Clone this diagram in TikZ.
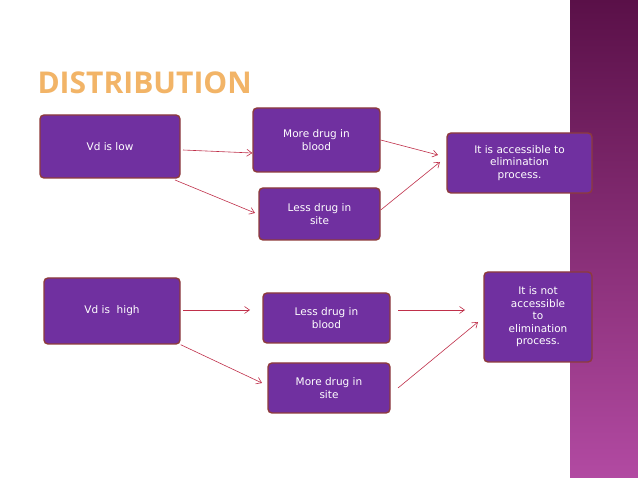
\documentclass[tikz,border=0pt]{standalone}
\usepackage{fontspec}
\setmainfont{DejaVu Sans}
\newfontfamily\titlefont{Open Sans}
\usetikzlibrary{arrows.meta}
\definecolor{boxfill}{HTML}{7030A0}
\definecolor{boxline}{HTML}{8E3B3B}
\definecolor{arr}{HTML}{C0304A}
\definecolor{stripetop}{HTML}{5A1048}
\definecolor{stripebot}{HTML}{B24AA2}
\definecolor{ttl}{HTML}{F2B467}
\tikzset{
 box/.style={draw=boxline, line width=1.4pt, fill=boxfill, rounded corners=4pt, text=white, align=center, font=\fontsize{10.5}{12.5}\selectfont, inner sep=2pt},
 con/.style={draw=arr, line width=0.6pt, -{Straight Barb[length=5pt,width=7pt]}}
}
\begin{document}
\begin{tikzpicture}[x=1pt,y=-1pt]
\useasboundingbox (0,0) rectangle (638,478);
\fill[white] (0,0) rectangle (638,478);
\shade[top color=stripetop, bottom color=stripebot] (570,0) rectangle (638,478);
\node[anchor=west, text=ttl, font=\titlefont\bfseries\fontsize{30}{30}\selectfont] (title) at (34,83) {DISTRIBUTION};
\path[box] (40,115) rectangle (180,178);
\node[font=\fontsize{10.5}{12.5}\selectfont, text=white] (a) at (110,147) {Vd is low};
\node[box, minimum width=127pt, minimum height=64pt] (b) at (316.5,140) {More drug in\\blood};
\node[box, minimum width=121pt, minimum height=52pt] (c) at (319.5,214) {Less drug in\\site};
\node[box, minimum width=145pt, minimum height=60pt] (d) at (519.5,163) {It is accessible to\\elimination\\process.};
\node[box, minimum width=136pt, minimum height=66pt] (e) at (112,311) {Vd is\ \ high};
\node[box, minimum width=127pt, minimum height=50pt] (f) at (326.5,318) {Less drug in\\blood};
\node[box, minimum width=122pt, minimum height=50pt] (g) at (329,388) {More drug in\\site};
\node[box, minimum width=108pt, minimum height=90pt] (h) at (538,317) {It is not\\accessible\\to\\elimination\\process.};
\coordinate (a1) at (183,150); \coordinate (a2) at (175,180);
\draw[con] (a1) -- (b.west |- 0,153);
\draw[con] (a2) -- (255,213);
\draw[con] (b.east |- 0,140) -- (438,155);
\draw[con] (c.east |- 0,210) -- (440,162);
\draw[con] (183,310) -- (250,310);
\draw[con] (e.south east) -- (262,383);
\draw[con] (398,310) -- (465,310);
\draw[con] (398,388) -- (478,322);
\end{tikzpicture}
\end{document}
